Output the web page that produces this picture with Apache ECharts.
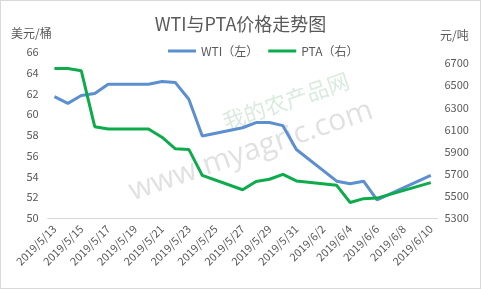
<!DOCTYPE html>
<html><head><meta charset="utf-8">
<script src="https://cdn.jsdelivr.net/npm/echarts@6/dist/echarts.min.js"></script>
<style>
html,body{margin:0;padding:0;background:#fff;}
#c{width:481px;height:289px;box-sizing:border-box;border:1px solid #d9d9d9;}
</style></head>
<body><div id="c"></div>
<script>
const categories = ['2019/5/13','2019/5/14','2019/5/15','2019/5/16','2019/5/17','2019/5/18','2019/5/19','2019/5/20','2019/5/21','2019/5/22','2019/5/23','2019/5/24','2019/5/25','2019/5/26','2019/5/27','2019/5/28','2019/5/29','2019/5/30','2019/5/31','2019/6/1','2019/6/2','2019/6/3','2019/6/4','2019/6/5','2019/6/6','2019/6/7','2019/6/8','2019/6/9','2019/6/10'];
const wtiValues = [61.7,61.05,61.8,62.0,62.9,null,null,62.9,63.15,63.05,61.45,57.9,null,null,58.7,59.2,59.2,58.9,56.6,null,null,53.55,53.3,53.55,51.75,null,null,null,54.1];
const ptaValues = [6650,6650,6630,6125,6105,null,null,6105,6030,5925,5920,5685,null,null,5555,5630,5650,5695,5635,null,null,5595,5440,5475,5480,null,null,null,5620];
const seriesNames = ['WTI（左）','PTA（右）'];
const leftTicks = {min:50,max:66,interval:2};
const rightTicks = {min:5300,max:6800,interval:200};

const chart = echarts.init(document.getElementById('c'));
const txt = '#595959';
const font = "'Noto Sans CJK SC', sans-serif";
chart.setOption({
  animation:false,
  title:{text:'WTI与PTA价格走势图',left:'center',top:9,textStyle:{color:txt,fontSize:18,fontWeight:'normal',fontFamily:font}},
  legend:{left:162,top:39,icon:'rect',itemWidth:28,itemHeight:3,itemGap:10,textStyle:{color:txt,fontSize:12,fontFamily:font},data:seriesNames},
  grid:{left:46.7,right:42.5,top:51,bottom:70},
  graphic:[
    {type:'text',left:10,top:26,style:{text:'美元/桶',fill:txt,font:"12px 'Noto Sans CJK SC'"}},
    {type:'text',left:439,top:28,style:{text:'元/吨',fill:txt,font:"12px 'Noto Sans CJK SC'"}},
    {type:'text',x:285,y:100,rotation:0.33,style:{text:'我的农产品网',fill:'rgba(150,195,160,0.35)',font:"22px 'Noto Sans CJK SC'",align:'center',verticalAlign:'middle'},z:-1},
    {type:'text',x:250,y:150,rotation:0.33,style:{text:'www.myagric.com',fill:'rgba(170,170,170,0.35)',font:"30px 'Open Sans'",align:'center',verticalAlign:'middle'},z:-1}
  ],
  xAxis:{type:'category',data:categories,boundaryGap:true,
    axisLine:{lineStyle:{color:'#d9d9d9'}},
    axisTick:{interval:1,length:5,lineStyle:{color:'#d9d9d9'}},
    axisLabel:{interval:1,rotate:45,margin:9,color:txt,fontSize:11,fontFamily:font}},
  yAxis:[
    {type:'value',min:leftTicks.min,max:leftTicks.max,interval:leftTicks.interval,
     axisLine:{show:false},axisTick:{show:false},splitLine:{show:false},
     axisLabel:{color:txt,fontSize:11,margin:9,fontFamily:font}},
    {type:'value',min:rightTicks.min,max:rightTicks.max,interval:rightTicks.interval,position:'right',
     axisLine:{show:false},axisTick:{show:false},splitLine:{show:false},
     axisLabel:{color:txt,fontSize:11,margin:7,showMaxLabel:false,fontFamily:font,formatter:function(v){return String(v);}}}
  ],
  series:[
    {name:seriesNames[0],type:'line',data:wtiValues,yAxisIndex:0,connectNulls:true,showSymbol:false,symbol:'none',
     lineStyle:{color:'#5B8FD0',width:3},itemStyle:{color:'#5B8FD0'}},
    {name:seriesNames[1],type:'line',data:ptaValues,yAxisIndex:1,connectNulls:true,showSymbol:false,symbol:'none',
     lineStyle:{color:'#0DAB4C',width:3},itemStyle:{color:'#0DAB4C'}}
  ]
});
</script></body></html>
